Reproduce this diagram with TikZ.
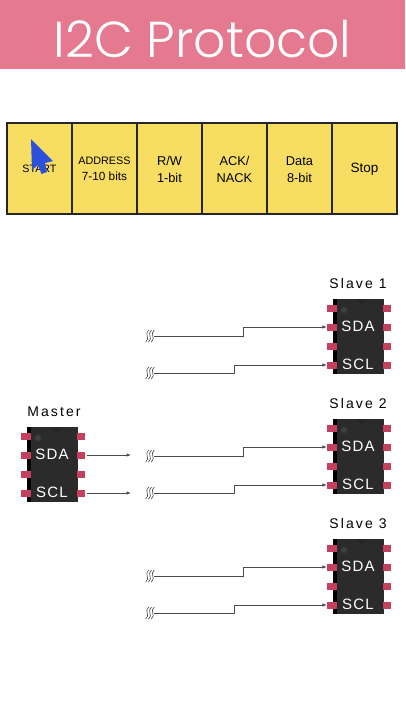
\documentclass[tikz,border=0pt]{standalone}
\usepackage{fontspec}
\setmainfont{Liberation Sans}
\newfontfamily\titlefont[UprightFont=* Light]{Poppins}
\newfontfamily\lab{Liberation Sans}
\usetikzlibrary{arrows.meta}
\definecolor{pinkband}{HTML}{E5798F}
\definecolor{cellyellow}{HTML}{F7DE62}
\definecolor{chipbody}{HTML}{2B2B2B}
\definecolor{pinred}{HTML}{C4405C}
\definecolor{cursorblue}{HTML}{2A50DC}
\tikzset{
  x=1pt,y=-1pt,
  cellbox/.style={draw=black!85,line width=1.5pt,fill=cellyellow,minimum width=65pt,minimum height=91pt,inner sep=0pt,anchor=north west},
  celltext/.style={inner sep=0pt,align=center,font=\fontsize{#1}{17}\selectfont},
  celltext/.default=12.8,
  chipbody/.style={fill=chipbody,draw=none,minimum width=51pt,minimum height=75pt,inner sep=0pt,anchor=north west},
  pinbox/.style={fill=pinred,draw=none,minimum width=10pt,minimum height=7pt,inner sep=0pt},
  chiplabel/.style={text=white,font=\lab\fontsize{15}{15}\selectfont,inner sep=0pt,text width=50pt,align=center},
  chipname/.style={font=\lab\fontsize{14}{14}\selectfont,inner sep=0pt},
  wire/.style={draw=black!70,line width=0.7pt},
  arrowwire/.style={wire,-{Latex[length=4.5pt,width=3.5pt]}},
  squig/.style={draw=black!75,line width=0.6pt}
}
\newcommand{\chip}[4]{%
  \node[chipbody] (#1) at (#2,#3) {};
  \fill[black] (#2,#3) rectangle ++(4,75);
  \fill[black!85] (#2+24,#3) .. controls (#2+27,#3+7) and (#2+32,#3+7) .. (#2+35,#3) -- cycle;
  \fill[black!75] (#2+11,#3+11) circle (3);
  \foreach \i/\yy in {1/9,2/28,3/47,4/66}{
    \node[pinbox] (#1L\i) at (#2-1,#3+\yy) {};
    \node[pinbox,minimum width=8pt] (#1R\i) at (#2+54,#3+\yy) {};
  }
  \node[chiplabel] at (#2+25,#3+27.5) {\addfontfeatures{LetterSpace=8}SDA};
  \node[chiplabel] at (#2+25,#3+65) {\addfontfeatures{LetterSpace=8}SCL};
  \node[chipname] at (#2+#4,#3-15.5) {\addfontfeatures{LetterSpace=15}\ifnum#3=427 Master\else Slave \the\numexpr(#3-179)/120\relax\fi};
}
\newcommand{\squiggle}[3]{%
  \coordinate (#1) at (#2+4,#3);
  \foreach \d in {-2.8,0,2.8}{
    \draw[squig] (#2+\d-1.5,#3+6) .. controls (#2+\d+3.5,#3+2) and (#2+\d-3.5,#3-2) .. (#2+\d+1.5,#3-6);
  }
}
\begin{document}
\begin{tikzpicture}
\useasboundingbox (0,0) rectangle (405,720);
\fill[white] (0,0) rectangle (405,720);
\node[fill=pinkband,minimum width=405pt,minimum height=69pt,inner sep=0pt,anchor=north west] (band) at (0,0) {};
\node[text=white,font=\titlefont\fontsize{50.5}{50.5}\selectfont,inner sep=0pt] (title) at (202.5,39) {I2C Protocol};
\node[cellbox] (c1) at (6.2,122) {};
\node[cellbox] (c2) at (71.2,122) {};
\node[cellbox] (c3) at (136.2,122) {};
\node[cellbox] (c4) at (201.2,122) {};
\node[cellbox] (c5) at (266.2,122) {};
\node[cellbox] (c6) at (331.2,122) {};
\node[celltext=10.7] (t1) at ([yshift=-0.5pt]c1.center) {START};
\node[celltext=10.8] (t2) at ([yshift=-0.5pt]c2.center) {ADDRESS\\[-1pt]{\fontsize{11.8}{17}\selectfont 7-10 bits}};
\node[celltext] (t3) at ([yshift=-1pt]c3.center) {R/W\\1-bit};
\node[celltext] (t4) at ([yshift=-1pt]c4.center) {ACK/\\NACK};
\node[celltext] (t5) at ([yshift=-1pt]c5.center) {Data\\8-bit};
\node[celltext=13.5] (t6) at ([yshift=-1pt]c6.center) {Stop};
\fill[cursorblue] (31,139) -- (53,161) -- (45,163) -- (47,172) -- (41.5,174) -- (38,165) -- (32,170) -- cycle;
\chip{master}{27}{427}{27}
\chip{slaveone}{333}{299}{25}
\chip{slavetwo}{333}{419}{25}
\chip{slavethree}{333}{539}{25}
% master
\coordinate (ma) at (131,455);
\coordinate (mb) at (131,493);
\draw[arrowwire] (masterR2.east)++(2,0) -- (ma);
\draw[arrowwire] (masterR4.east)++(2,0) -- (mb);
\foreach \n/\yo/\chipn in {a/0/slaveone,b/120/slavetwo,c/240/slavethree}{
  \squiggle{s\n1}{150}{336+\yo}
  \squiggle{s\n2}{150}{373+\yo}
  \draw[arrowwire] (s\n1) -| (243,327+\yo) -- (\chipn L2.west);
  \draw[arrowwire] (s\n2) -| (234.5,365+\yo) -- (\chipn L4.west);
}
\end{tikzpicture}
\end{document}
